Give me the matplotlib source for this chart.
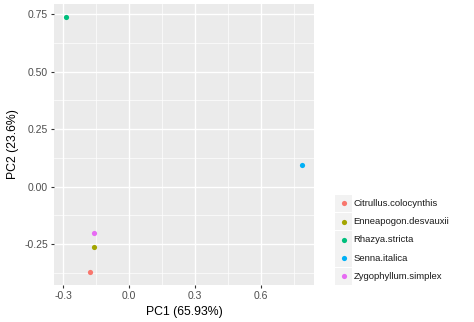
import matplotlib
matplotlib.use("Agg")
import matplotlib.pyplot as plt
from matplotlib.patches import Rectangle

plt.rcParams["font.family"] = ["Liberation Sans", "DejaVu Sans"]

species = ["Citrullus.colocynthis", "Enneapogon.desvauxii", "Rhazya.stricta",
           "Senna.italica", "Zygophyllum.simplex"]
pc1 = [-0.178, -0.159, -0.288, 0.790, -0.159]
pc2 = [-0.370, -0.263, 0.739, 0.095, -0.203]
colors = ["#F8766D", "#A3A500", "#00BF7D", "#00B0F6", "#E76BF3"]
xticks = [-0.3, 0.0, 0.3, 0.6]
yticks = [-0.25, 0.0, 0.25, 0.5, 0.75]
xticklabels = ["-0.3", "0.0", "0.3", "0.6"]
yticklabels = ["-0.25", "0.00", "0.25", "0.50", "0.75"]

W, H = 474, 322
fig = plt.figure(figsize=(W / 100, H / 100), dpi=100)
ax = fig.add_axes([54.3 / W, 1 - 284.5 / H, 260 / W, 280.5 / H])
ax.set_facecolor("#EBEBEB")
for s in ax.spines.values():
    s.set_visible(False)

for sp, x, y, c in zip(species, pc1, pc2, colors):
    ax.scatter([x], [y], s=14, color=c, zorder=3, linewidths=0)

ax.set_xticks(xticks)
ax.set_xticklabels(xticklabels)
ax.set_yticks(yticks)
ax.set_yticklabels(yticklabels)
ax.set_xticks([-0.15, 0.15, 0.45, 0.75], minor=True)
ax.set_yticks([-0.375, -0.125, 0.125, 0.375, 0.625], minor=True)

xr = max(pc1) - min(pc1)
yr = max(pc2) - min(pc2)
ax.set_xlim(min(pc1) - 0.05 * xr, max(pc1) + 0.05 * xr)
ax.set_ylim(min(pc2) - 0.05 * yr, max(pc2) + 0.05 * yr)

ax.grid(which="major", color="white", linewidth=1.0)
ax.grid(which="minor", color="white", linewidth=0.5)
ax.set_axisbelow(True)
ax.tick_params(which="major", length=2.5, color="#333333", labelsize=7.5,
               labelcolor="#4D4D4D", pad=2)
ax.tick_params(which="minor", length=0)

ax.set_xlabel("PC1 (65.93%)", fontsize=8.8, labelpad=3.5)
ax.set_ylabel("PC2 (23.6%)", fontsize=8.8, labelpad=4)

# legend drawn in its own axes
top, rowh = 194.2, 18.25
n = len(species)
lax = fig.add_axes([335 / W, 1 - (top + n * rowh) / H, (W - 335) / W, n * rowh / H])
lax.set_xlim(0, W - 335)
lax.set_ylim(n, 0)
lax.axis("off")
for i, (sp, c) in enumerate(zip(species, colors)):
    lax.add_patch(Rectangle((0, i + 0.02), 17, 0.96, facecolor="#F2F2F2",
                            edgecolor="none"))
    lax.scatter([8.5], [i + 0.5], s=14, color=c, linewidths=0)
    lax.text(18.5, i + 0.5, sp, fontsize=6.8, va="center", ha="left",
             color="#1A1A1A")

fig.savefig("out.png", dpi=100)
